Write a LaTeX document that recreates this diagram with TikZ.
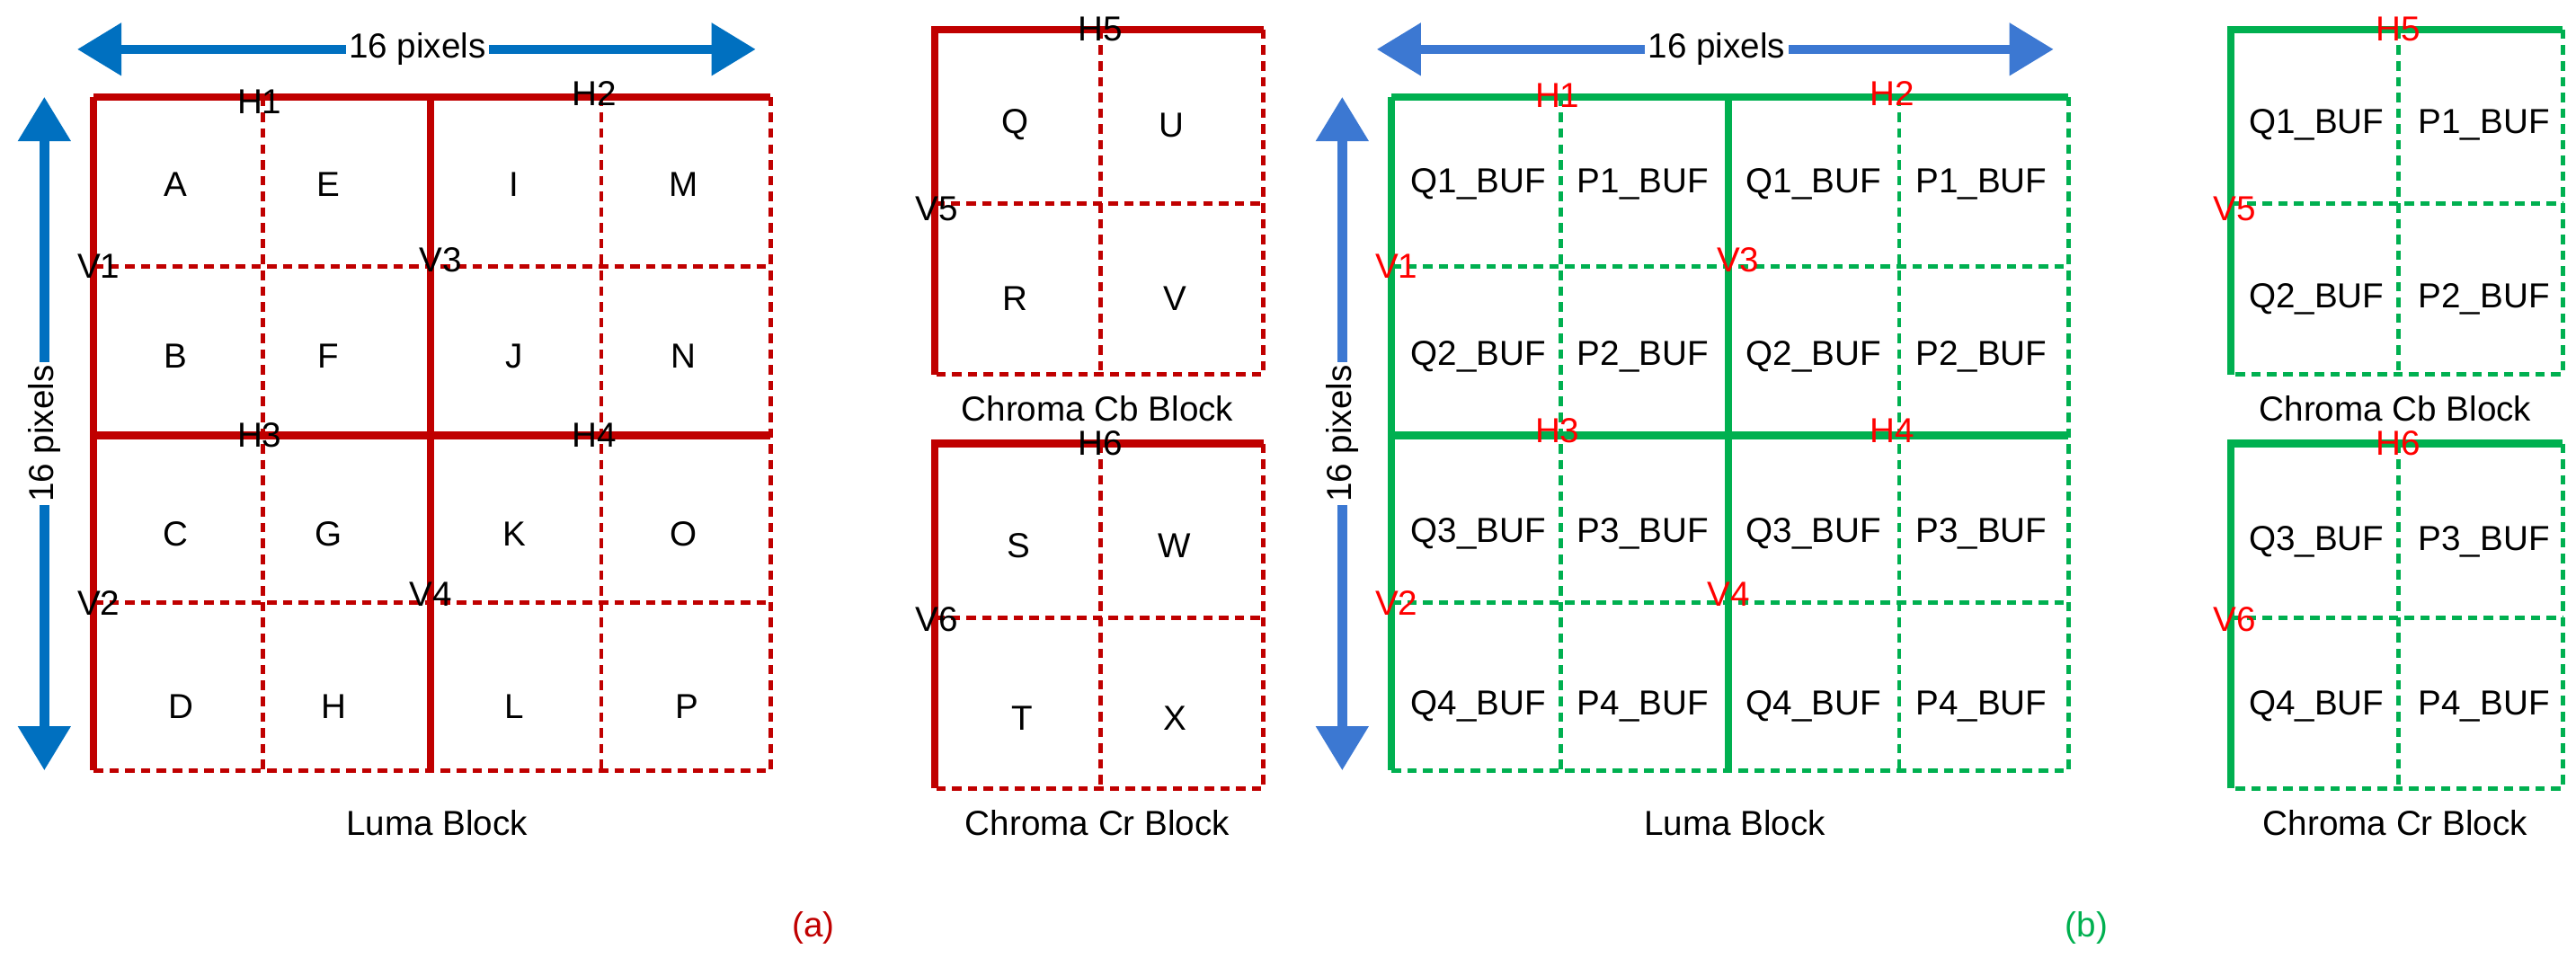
\documentclass[tikz,border=0pt]{standalone}
\usepackage{fontspec}
\setmainfont{Liberation Sans}
\usetikzlibrary{arrows.meta,positioning}
\definecolor{lumared}{RGB}{192,0,0}
\definecolor{bufgreen}{RGB}{0,176,80}
\definecolor{arrowblue}{RGB}{0,112,192}
\definecolor{arrowblueb}{RGB}{60,120,210}
\tikzset{
  thick edge/.style={line width=2.4pt},
  thin edge/.style={line width=1.4pt, dash pattern=on 3pt off 2pt},
  size arrow/.style={line width=3pt, {Triangle[length=14pt,width=16pt]}-{Triangle[length=14pt,width=16pt]}},
  cell/.style={font=\fontsize{11}{13}\selectfont, inner sep=1pt},
  edgelbl/.style={font=\fontsize{11}{13}\selectfont, inner sep=0pt},
  caption/.style={font=\fontsize{11}{13}\selectfont}
}
\begin{document}
\begin{tikzpicture}[x=0.0183cm, y=-0.0183cm]
\useasboundingbox (0,0) rectangle (1568,583);
% ---------- panel (a) ----------
\begin{scope}[lumared]
  \foreach \x in {160,366,469} \draw[thin edge] (\x,59) -- (\x,469);
  \foreach \y in {162,367,469} \draw[thin edge] (57,\y) -- (469,\y);
  \foreach \x in {57,262} \draw[thick edge] (\x,59) -- (\x,469);
  \foreach \y in {59,265} \draw[thick edge] (57,\y) -- (469,\y);
  \foreach \o in {18,270}{
    \draw[thin edge] (670,\o) -- (670,\o+210) (569,\o+106) -- (769,\o+106)
      (769,\o) -- (769,\o+210) -- (569,\o+210);
    \draw[thick edge] (569,\o+210) -- (569,\o) -- (769,\o);
  }
\end{scope}
\foreach \t/\c/\r in {A/107/112,E/200/112,I/313/112,M/416/112,
    B/107/217,F/200/217,J/313/217,N/416/217,
    C/107/325,G/200/325,K/313/325,O/416/325,
    D/110/430,H/203/430,L/313/430,P/418/430,
    Q/618/76,U/713/76,R/618/182,V/715/182,
    S/620/332,W/715/332,T/622/437,X/715/437}
  \node[cell] (a\t) at (\c,\r) {\t};
\foreach \t/\c/\r in {H1/158/62,H2/362/57,H3/158/265,H4/362/265,
    V1/60/162,V3/268/158,V2/60/367,V4/262/362,
    H5/670/18,V5/570/127,H6/670/270,V6/570/377}
  \node[edgelbl] (a\t) at (\c,\r) {\t};
\coordinate (aLeft) at (47,30);
\coordinate (aRight) at (460,30);
\coordinate (aTop) at (27,59);
\coordinate (aBot) at (27,469);
\draw[size arrow, arrowblue] (aLeft) -- (aRight);
\draw[size arrow, arrowblue] (aTop) -- (aBot);
\node[caption, fill=white, inner sep=1pt] (aW) at (254,30) {16 pixels};
\node[caption, fill=white, inner sep=1pt, rotate=90] (aH) at (27,264) {16 pixels};
\node[caption] (aLuma) at (266,501) {Luma Block};
\node[caption] (aCb) at (668,249) {Chroma Cb Block};
\node[caption] (aCr) at (668,501) {Chroma Cr Block};
\node[caption, lumared] (aTag) at (495,565) {(a)};
% ---------- panel (b) ----------
\begin{scope}[bufgreen]
  \foreach \x in {950,1156,1259} \draw[thin edge] (\x,59) -- (\x,469);
  \foreach \y in {162,367,469} \draw[thin edge] (847,\y) -- (1259,\y);
  \foreach \x in {847,1052} \draw[thick edge] (\x,59) -- (\x,469);
  \foreach \y in {59,265} \draw[thick edge] (847,\y) -- (1259,\y);
  \foreach \o in {18,270}{
    \draw[thin edge] (1460,\o) -- (1460,\o+210) (1358,\o+106) -- (1560,\o+106)
      (1560,\o) -- (1560,\o+210) -- (1358,\o+210);
    \draw[thick edge] (1358,\o+210) -- (1358,\o) -- (1560,\o);
  }
\end{scope}
\foreach \n/\r in {1/112,2/217,3/325,4/430}{
  \node[cell] (bQ\n a) at (900,\r) {Q\n\_BUF};
  \node[cell] (bP\n a) at (1000,\r) {P\n\_BUF};
  \node[cell] (bQ\n b) at (1104,\r) {Q\n\_BUF};
  \node[cell] (bP\n b) at (1206,\r) {P\n\_BUF};
}
\foreach \n/\r in {1/76,2/182,3/330,4/430}{
  \node[cell] (bQ\n c) at (1410,\r) {Q\n\_BUF};
  \node[cell] (bP\n c) at (1512,\r) {P\n\_BUF};
}
\foreach \t/\c/\r in {H1/948/58,H2/1152/57,H3/948/262,H4/1152/262,
    V1/850/162,V3/1058/158,V2/850/367,V4/1052/362,
    H5/1460/18,V5/1360/127,H6/1460/270,V6/1360/377}
  \node[edgelbl, red] (b\t) at (\c,\r) {\t};
\coordinate (bLeft) at (838,30);
\coordinate (bRight) at (1250,30);
\coordinate (bTop) at (817,59);
\coordinate (bBot) at (817,469);
\draw[size arrow, arrowblueb] (bLeft) -- (bRight);
\draw[size arrow, arrowblueb] (bTop) -- (bBot);
\node[caption, fill=white, inner sep=1pt] (bW) at (1045,30) {16 pixels};
\node[caption, fill=white, inner sep=1pt, rotate=90] (bH) at (817,264) {16 pixels};
\node[caption] (bLuma) at (1056,501) {Luma Block};
\node[caption] (bCb) at (1458,249) {Chroma Cb Block};
\node[caption] (bCr) at (1458,501) {Chroma Cr Block};
\node[caption, bufgreen] (bTag) at (1270,565) {(b)};
\end{tikzpicture}
\end{document}
